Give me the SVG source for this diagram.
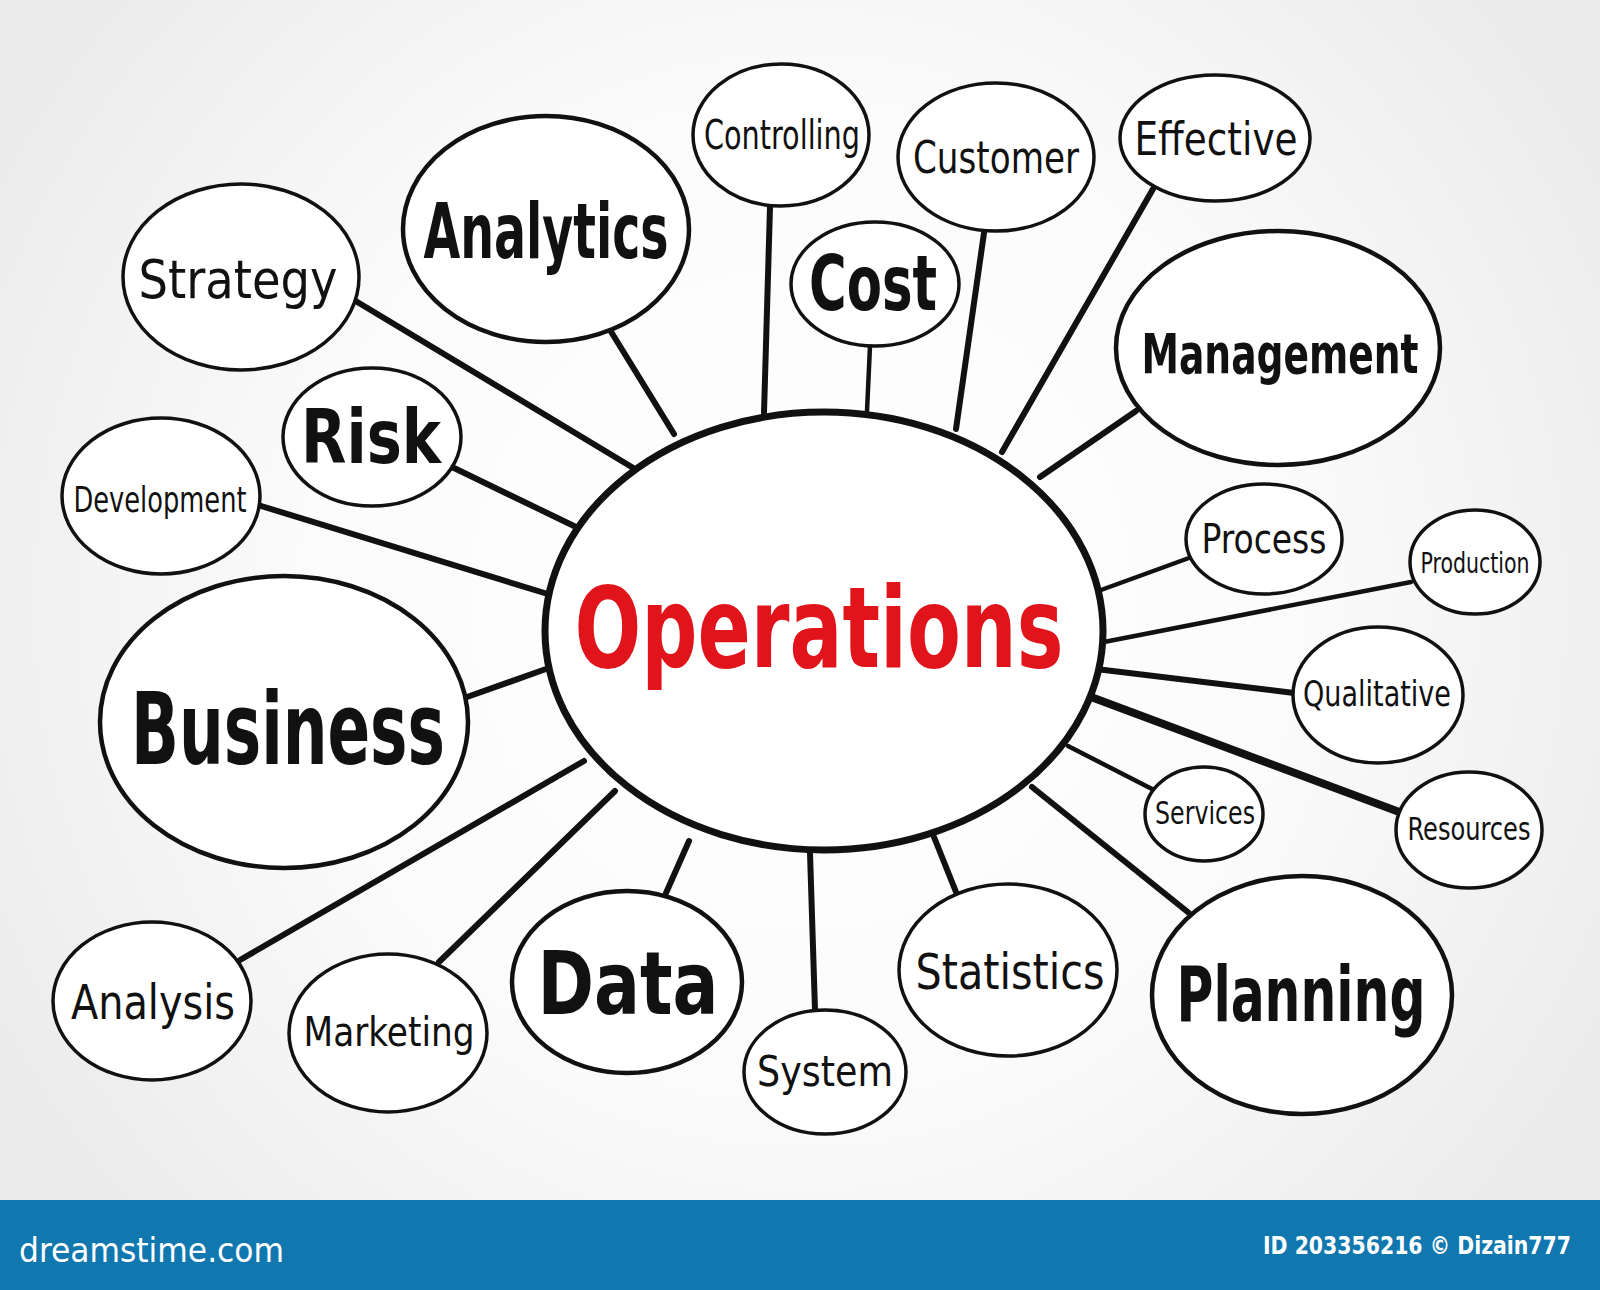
<svg xmlns="http://www.w3.org/2000/svg" width="1600" height="1290" viewBox="0 0 1600 1290">
<defs>
<radialGradient id="bg" cx="800" cy="600" r="900" gradientUnits="userSpaceOnUse">
<stop offset="0" stop-color="#ffffff"/>
<stop offset="0.55" stop-color="#fbfbfb"/>
<stop offset="1" stop-color="#ececec"/>
</radialGradient>
<style>
.n{fill:#ffffff;stroke:#111;stroke-width:3.5}
.nb{fill:#ffffff;stroke:#111;stroke-width:4.5}
.c{stroke:#111;stroke-width:6;stroke-linecap:round;fill:none}
.ct{stroke:#111;stroke-width:4.5;stroke-linecap:round;fill:none}
.ck{stroke:#111;stroke-width:8;stroke-linecap:round;fill:none}
.t{font-family:"Liberation Sans Narrow","DejaVu Sans Condensed","Roboto Condensed",sans-serif;fill:#111;text-anchor:middle}
.tb{font-weight:bold}
.w{font-family:"DejaVu Sans Condensed","Liberation Sans Narrow",sans-serif;fill:#ffffff}
</style>
</defs>
<rect x="0" y="0" width="1600" height="1200" fill="url(#bg)"/>
<g id="connectors">
<line class="c" x1="354" y1="300" x2="635" y2="469"/>
<line class="c" x1="610" y1="330" x2="674" y2="434"/>
<line class="c" x1="770" y1="207" x2="764" y2="413"/>
<line class="ct" x1="870" y1="346" x2="867" y2="411"/>
<line class="c" x1="984" y1="233" x2="956" y2="429"/>
<line class="c" x1="1153" y1="189" x2="1002" y2="452"/>
<line class="c" x1="1136" y1="411" x2="1040" y2="477"/>
<line class="c" x1="452" y1="467" x2="574" y2="526"/>
<line class="c" x1="258" y1="505" x2="551" y2="595"/>
<line class="c" x1="467" y1="697" x2="546" y2="669"/>
<line class="ct" x1="1189" y1="558" x2="1101" y2="590"/>
<line class="ct" x1="1411" y1="582" x2="1104" y2="642"/>
<line class="c" x1="1294" y1="693" x2="1096" y2="669"/>
<line class="ck" x1="1402" y1="813" x2="1091" y2="697"/>
<line class="ct" x1="1152" y1="789" x2="1068" y2="746"/>
<line class="c" x1="1189" y1="913" x2="1032" y2="787"/>
<line class="c" x1="956" y1="892" x2="934" y2="837"/>
<line class="c" x1="815" y1="1010" x2="810" y2="853"/>
<line class="c" x1="666" y1="893" x2="689" y2="841"/>
<line class="c" x1="439" y1="962" x2="615" y2="791"/>
<line class="c" x1="240" y1="960" x2="584" y2="761"/>
</g>
<g id="node-operations">
<ellipse cx="824" cy="631" rx="279" ry="219" fill="#ffffff" stroke="#111" stroke-width="7"/>
<text class="t tb" x="819" y="667" font-size="112" fill="#e0141a" style="fill:#e0141a" textLength="489" lengthAdjust="spacingAndGlyphs">Operations</text>
</g>
<g id="node-strategy">
<ellipse class="n" cx="241" cy="277" rx="118" ry="93"/>
<text class="t" x="238" y="298" font-size="54" textLength="199" lengthAdjust="spacingAndGlyphs">Strategy</text>
</g>
<g id="node-analytics">
<ellipse class="nb" cx="546" cy="229" rx="143" ry="113"/>
<text class="t tb" x="546" y="258" font-size="76" textLength="245" lengthAdjust="spacingAndGlyphs">Analytics</text>
</g>
<g id="node-controlling">
<ellipse class="n" cx="781" cy="135" rx="88" ry="71"/>
<text class="t" x="782" y="149" font-size="40" textLength="156" lengthAdjust="spacingAndGlyphs">Controlling</text>
</g>
<g id="node-customer">
<ellipse class="n" cx="996" cy="157" rx="98" ry="74"/>
<text class="t" x="996" y="173" font-size="44" textLength="166" lengthAdjust="spacingAndGlyphs">Customer</text>
</g>
<g id="node-effective">
<ellipse class="n" cx="1215" cy="138" rx="95" ry="63"/>
<text class="t" x="1216" y="155" font-size="46" textLength="163" lengthAdjust="spacingAndGlyphs">Effective</text>
</g>
<g id="node-cost">
<ellipse class="n" cx="875" cy="284" rx="84" ry="62"/>
<text class="t tb" x="873" y="310" font-size="76" textLength="128" lengthAdjust="spacingAndGlyphs">Cost</text>
</g>
<g id="node-management">
<ellipse class="nb" cx="1278" cy="348" rx="162" ry="117"/>
<text class="t tb" x="1280" y="373" font-size="56" textLength="277" lengthAdjust="spacingAndGlyphs">Management</text>
</g>
<g id="node-risk">
<ellipse class="n" cx="372" cy="437" rx="89" ry="69"/>
<text class="t tb" x="371" y="463" font-size="74" textLength="140" lengthAdjust="spacingAndGlyphs">Risk</text>
</g>
<g id="node-development">
<ellipse class="n" cx="161" cy="496" rx="99" ry="78"/>
<text class="t" x="160" y="512" font-size="36" textLength="173" lengthAdjust="spacingAndGlyphs">Development</text>
</g>
<g id="node-business">
<ellipse class="nb" cx="284" cy="722" rx="184" ry="146"/>
<text class="t tb" x="288" y="764" font-size="100" textLength="314" lengthAdjust="spacingAndGlyphs">Business</text>
</g>
<g id="node-process">
<ellipse class="n" cx="1264" cy="539" rx="78" ry="55"/>
<text class="t" x="1264" y="553" font-size="40" textLength="125" lengthAdjust="spacingAndGlyphs">Process</text>
</g>
<g id="node-production">
<ellipse class="n" cx="1475" cy="562" rx="65" ry="52"/>
<text class="t" x="1475" y="573" font-size="28" textLength="109" lengthAdjust="spacingAndGlyphs">Production</text>
</g>
<g id="node-qualitative">
<ellipse class="n" cx="1378" cy="695" rx="85" ry="68"/>
<text class="t" x="1377" y="706" font-size="36" textLength="148" lengthAdjust="spacingAndGlyphs">Qualitative</text>
</g>
<g id="node-services">
<ellipse class="n" cx="1204" cy="814" rx="59" ry="47"/>
<text class="t" x="1205" y="824" font-size="32" textLength="100" lengthAdjust="spacingAndGlyphs">Services</text>
</g>
<g id="node-resources">
<ellipse class="n" cx="1469" cy="830" rx="73" ry="58"/>
<text class="t" x="1469" y="840" font-size="32" textLength="123" lengthAdjust="spacingAndGlyphs">Resources</text>
</g>
<g id="node-analysis">
<ellipse class="n" cx="152" cy="1001" rx="99" ry="79"/>
<text class="t" x="153" y="1019" font-size="48" textLength="164" lengthAdjust="spacingAndGlyphs">Analysis</text>
</g>
<g id="node-marketing">
<ellipse class="n" cx="388" cy="1033" rx="99" ry="79"/>
<text class="t" x="389" y="1046" font-size="40" textLength="171" lengthAdjust="spacingAndGlyphs">Marketing</text>
</g>
<g id="node-data">
<ellipse class="nb" cx="627" cy="982" rx="115" ry="91"/>
<text class="t tb" x="628" y="1014" font-size="88" textLength="181" lengthAdjust="spacingAndGlyphs">Data</text>
</g>
<g id="node-system">
<ellipse class="n" cx="825" cy="1072" rx="81" ry="62"/>
<text class="t" x="825" y="1086" font-size="42" textLength="136" lengthAdjust="spacingAndGlyphs">System</text>
</g>
<g id="node-statistics">
<ellipse class="n" cx="1008" cy="970" rx="109" ry="86"/>
<text class="t" x="1010" y="989" font-size="50" textLength="189" lengthAdjust="spacingAndGlyphs">Statistics</text>
</g>
<g id="node-planning">
<ellipse class="nb" cx="1302" cy="995" rx="150" ry="119"/>
<text class="t tb" x="1301" y="1021" font-size="76" textLength="249" lengthAdjust="spacingAndGlyphs">Planning</text>
</g>
<g id="footer">
<rect x="0" y="1200" width="1600" height="90" fill="#1077af"/>
<text class="w" x="19" y="1262" font-size="34" textLength="265" lengthAdjust="spacingAndGlyphs">dreamstime.com</text>
<text class="w" x="1571" y="1254" font-size="24" font-weight="bold" text-anchor="end" textLength="308" lengthAdjust="spacingAndGlyphs">ID 203356216 © Dizain777</text>
</g>
</svg>
